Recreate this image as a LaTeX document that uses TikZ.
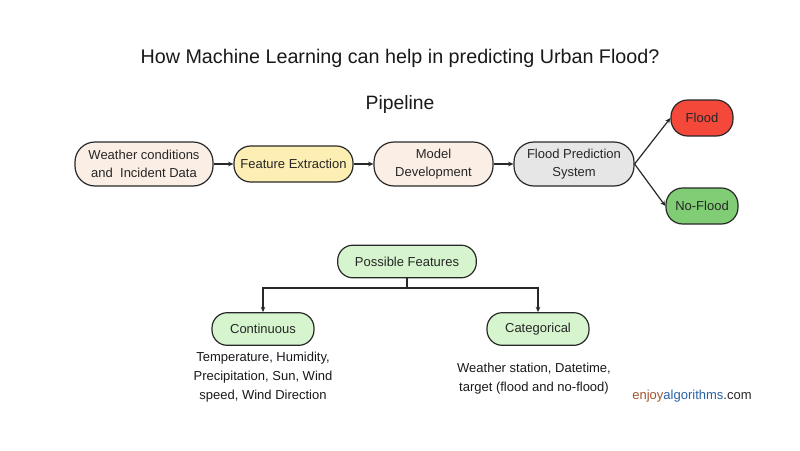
\documentclass[tikz,border=0pt]{standalone}
\usepackage{fontspec}
\setmainfont{Liberation Sans}
\usetikzlibrary{positioning,arrows.meta}

\definecolor{peach}{RGB}{251,238,229}
\definecolor{butter}{RGB}{253,238,180}
\definecolor{greyfill}{RGB}{230,230,230}
\definecolor{floodred}{RGB}{244,72,58}
\definecolor{nofloodgreen}{RGB}{128,205,118}
\definecolor{mint}{RGB}{214,245,206}
\definecolor{edgegrey}{RGB}{40,40,40}
\definecolor{enjoybrown}{RGB}{160,84,44}
\definecolor{algoblue}{RGB}{42,96,166}

\begin{document}
\begin{tikzpicture}[
		x=0.75pt, y=-0.75pt,
		>={Stealth[length=4pt,width=3.5pt]},
		box/.style={draw=edgegrey, line width=0.9pt, align=center, inner sep=2pt,
			font=\fontsize{9.75}{13.5}\selectfont, text=black!85},
		bigbox/.style={box, minimum height=33pt, rounded corners=15pt},
		smallbox/.style={box, minimum height=27pt, rounded corners=12.5pt},
		featbox/.style={box, fill=mint, minimum height=24.5pt, rounded corners=11.5pt},
		link/.style={->, line width=0.9pt, edgegrey},
		note/.style={align=center, font=\fontsize{9.75}{14.25}\selectfont, text=black!90}
	]
	\useasboundingbox (0,0) rectangle (800,450);

	\node[font=\fontsize{14.8}{17}\selectfont, text=black!90] (title) at (400,58) {How Machine Learning can help in predicting Urban Flood?};
	\node[font=\fontsize{14.5}{17}\selectfont, text=black!90] (pipe) at (400,104) {Pipeline};

	% pipeline row
	\node[bigbox, fill=peach, minimum width=103.5pt] (weather) at (144,164) {Weather conditions\\and\ \ Incident Data};
	\node[smallbox, fill=butter, minimum width=89.25pt] (feat) at (293.5,164) {Feature Extraction};
	\node[bigbox, fill=peach, minimum width=89.25pt] (model) at (433.5,164) {Model\\Development};
	\node[bigbox, fill=greyfill, minimum width=90pt] (fps) at (574,164) {Flood Prediction\\System};
	\node[smallbox, fill=floodred, minimum width=46.5pt] (flood) at (702,118) {Flood};
	\node[smallbox, fill=nofloodgreen, minimum width=54pt] (noflood) at (702,206) {No-Flood};

	\draw[link] (weather) -- (feat);
	\draw[link] (feat) -- (model);
	\draw[link] (model) -- (fps);
	\draw[link] (fps.east) -- (flood.west);
	\draw[link] (fps.east) -- (noflood.west);

	% features tree
	\node[featbox, minimum width=104pt] (possible) at (407,261.5) {Possible Features};
	\node[featbox, minimum width=76.5pt] (cont) at (263,329) {Continuous};
	\node[featbox, minimum width=76.5pt] (cat) at (538,329) {Categorical};
	\coordinate (split) at (407,288);

	\draw[line width=0.9pt, edgegrey] (possible) -- (split);
	\draw[link] (split) -| (cont);
	\draw[link] (split) -| (cat);

	\node[note] (conttext) at (263,377) {Temperature, Humidity,\\Precipitation, Sun, Wind\\speed, Wind Direction};
	\node[note] (cattext) at (534,378.5) {Weather station, Datetime,\\target (flood and no-flood)};

	\node[font=\fontsize{9.75}{12}\selectfont] (brand) at (692,396) {\textcolor{enjoybrown}{enjoy}\textcolor{algoblue}{algorithms}\textcolor{black!85}{.com}};
\end{tikzpicture}
\end{document}
